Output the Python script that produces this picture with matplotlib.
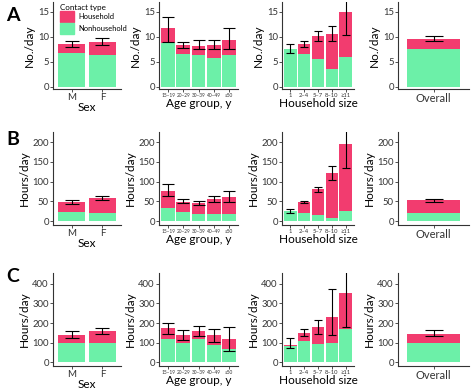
import matplotlib
matplotlib.use("Agg")
import matplotlib.pyplot as plt
import numpy as np
from matplotlib.patches import Patch

plt.rcParams['font.family'] = ['Lato', 'DejaVu Sans']

# ---- categories ----
sex_labels = ["M", "F"]
age_labels = ["15–19", "20–29", "30–39", "40–49", "≥50"]
hh_labels = ["1", "2–4", "5–7", "8–10", "≥11"]
overall_labels = ["Overall"]

# ---- Row A: number of contacts per day ----
a_sex_non = [6.7, 6.4];  a_sex_hh = [1.8, 2.6]
a_sex_lo = [8.0, 8.4];   a_sex_hi = [9.1, 9.8]
a_age_non = [8.7, 6.5, 6.4, 5.8, 6.4]; a_age_hh = [3.1, 1.9, 1.8, 2.6, 2.9]
a_age_lo = [9.0, 7.8, 7.5, 7.6, 7.6];  a_age_hi = [14.0, 9.0, 9.3, 9.3, 11.8]
a_hs_non = [7.5, 6.5, 5.6, 3.6, 6.0];  a_hs_hh = [0.0, 2.0, 4.5, 7.0, 9.0]
a_hs_lo = [6.8, 7.9, 9.2, 9.1, 10.3];  a_hs_hi = [8.6, 9.2, 11.1, 12.1, 17.5]
a_all_non = [7.5]; a_all_hh = [2.1]; a_all_lo = [9.2]; a_all_hi = [10.2]

# ---- Row B: contact hours per day ----
b_sex_non = [22, 19.6];  b_sex_hh = [26, 38.4]
b_sex_lo = [43, 54];     b_sex_hi = [53, 63]
b_age_non = [32, 22, 17, 18, 18]; b_age_hh = [45.5, 27, 30, 38, 42]
b_age_lo = [63, 45, 42, 48, 48];  b_age_hi = [93, 55, 52, 64, 76]
b_hs_non = [25.5, 19.6, 15.3, 8.5, 25.5]; b_hs_hh = [0, 28.4, 65.7, 113.5, 171]
b_hs_lo = [21, 45, 75, 103, 134];  b_hs_hi = [30, 51, 87, 139, 230]
b_all_non = [19.6]; b_all_hh = [33]; b_all_lo = [49]; b_all_hi = [57]

# ---- Row C: contact hours per day (weighted) ----
c_sex_non = [99, 99];  c_sex_hh = [41, 58]
c_sex_lo = [122, 144]; c_sex_hi = [160, 176]
c_age_non = [116, 97, 116, 87, 65]; c_age_hh = [56, 41, 42, 51, 54]
c_age_lo = [145, 115, 133, 105, 55]; c_age_hi = [201, 162, 186, 170, 180]
c_hs_non = [82, 107, 94, 99, 167]; c_hs_hh = [8, 41, 85, 131, 187]
c_hs_lo = [70, 133, 145, 140, 180]; c_hs_hi = [121, 167, 215, 375, 470]
c_all_non = [99]; c_all_hh = [46]; c_all_lo = [136]; c_all_hi = [162]

PINK = '#F23C6F'
GREEN = '#6CF0A8'
AXC = '#333333'

W, H = 474, 389
fig = plt.figure(figsize=(W / 100, H / 100), dpi=100)

cols_px = [(53, 68), (159, 79), (282, 72), (398, 71)]
rows_px = [(2, 89), (132, 225), (273, 366)]
letter_base = [21, 145, 282]

rows = [
    dict(letter="A", ylabel="No./day", ylim=(-0.4, 16.9), ticks=[0, 5, 10, 15],
         groups=[(sex_labels, a_sex_non, a_sex_hh, a_sex_lo, a_sex_hi),
                 (age_labels, a_age_non, a_age_hh, a_age_lo, a_age_hi),
                 (hh_labels, a_hs_non, a_hs_hh, a_hs_lo, a_hs_hi),
                 (overall_labels, a_all_non, a_all_hh, a_all_lo, a_all_hi)]),
    dict(letter="B", ylabel="Hours/day", ylim=(-10, 226), ticks=[0, 50, 100, 150, 200],
         groups=[(sex_labels, b_sex_non, b_sex_hh, b_sex_lo, b_sex_hi),
                 (age_labels, b_age_non, b_age_hh, b_age_lo, b_age_hi),
                 (hh_labels, b_hs_non, b_hs_hh, b_hs_lo, b_hs_hi),
                 (overall_labels, b_all_non, b_all_hh, b_all_lo, b_all_hi)]),
    dict(letter="C", ylabel="Hours/day", ylim=(-20, 456), ticks=[0, 100, 200, 300, 400],
         groups=[(sex_labels, c_sex_non, c_sex_hh, c_sex_lo, c_sex_hi),
                 (age_labels, c_age_non, c_age_hh, c_age_lo, c_age_hi),
                 (hh_labels, c_hs_non, c_hs_hh, c_hs_lo, c_hs_hi),
                 (overall_labels, c_all_non, c_all_hh, c_all_lo, c_all_hi)]),
]

xlabels = ["Sex", "Age group, y", "Household size", None]
xtick_sizes = [7, 3.4, 4.2, 8]
capsizes = [5, 4.5, 3, 6.5]

for r, row in enumerate(rows):
    top_px, bot_px = rows_px[r]
    for c, (labels, non, hh, lo, hi) in enumerate(row["groups"]):
        left_px, w_px = cols_px[c]
        ax = fig.add_axes([left_px / W, (H - bot_px) / H, w_px / W, (bot_px - top_px) / H])
        x = np.arange(len(labels))
        non = np.array(non, float)
        hh = np.array(hh, float)
        tot = non + hh
        ax.bar(x, non, width=0.9, color=GREEN, linewidth=0)
        ax.bar(x, hh, width=0.9, bottom=non, color=PINK, linewidth=0)
        ax.errorbar(x, tot, yerr=[tot - np.array(lo), np.array(hi) - tot], fmt='none',
                    ecolor='black', elinewidth=0.8, capsize=capsizes[c], capthick=0.8)
        ax.set_xlim(-0.6, len(labels) - 0.4)
        ax.set_ylim(*row["ylim"])
        ax.set_yticks(row["ticks"])
        ax.set_xticks(x)
        ax.set_xticklabels(labels, fontsize=xtick_sizes[c], color=AXC)
        ax.tick_params(axis='y', labelsize=6.8, colors=AXC, length=2, width=0.6, pad=1)
        ax.tick_params(axis='x', length=2, width=0.6, pad=1.2, colors=AXC)
        for s in ['top', 'right']:
            ax.spines[s].set_visible(False)
        for s in ['left', 'bottom']:
            ax.spines[s].set_color(AXC)
            ax.spines[s].set_linewidth(0.8)
        ax.set_ylabel(row["ylabel"], fontsize=8.5, labelpad=2)
        if xlabels[c]:
            ax.set_xlabel(xlabels[c], fontsize=8.5, labelpad=0)
        if r == 0 and c == 0:
            handles = [Patch(color=PINK, label="Household"),
                       Patch(color=GREEN, label="Nonhousehold")]
            leg = ax.legend(handles=handles, title="Contact type", loc='upper left',
                            bbox_to_anchor=(0.04, 1.03), frameon=False, fontsize=5.4,
                            title_fontsize=5.8, handlelength=1.9, handleheight=1.9,
                            labelspacing=0.05, handletextpad=0.5, borderpad=0.1)
            leg._legend_box.align = "left"
    fig.text(6 / W, 1 - letter_base[r] / H, row["letter"], fontsize=14, fontweight='bold',
             ha='left', va='baseline')

fig.savefig("out.png", dpi=100)
